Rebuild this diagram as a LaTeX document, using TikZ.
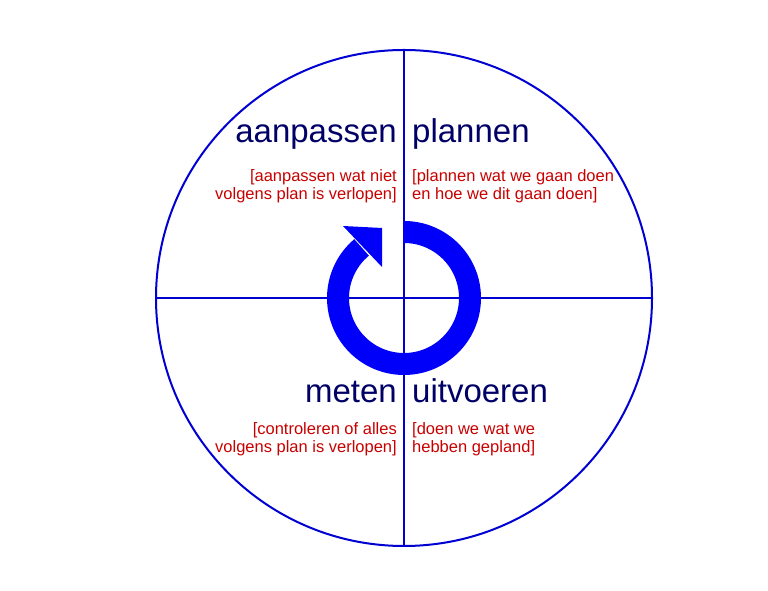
\documentclass[tikz,border=0pt]{standalone}
\usepackage{fontspec}
\setmainfont{Liberation Sans}
\definecolor{cyclenavy}{RGB}{0,0,102}
\definecolor{cyclered}{RGB}{200,0,0}
\definecolor{cycleline}{RGB}{0,0,210}
\definecolor{cycleblue}{RGB}{0,0,250}

\begin{document}
\begin{tikzpicture}[
    x=1pt, y=1pt,
    stagenode/.style={font=\fontsize{33}{38}\selectfont, text=cyclenavy, inner sep=0pt},
    notenode/.style={font=\fontsize{16.5}{18.5}\selectfont, text=cyclered, inner sep=0pt},
    axisline/.style={cycleline, line width=2pt}
]
\useasboundingbox (0,0) rectangle (768,591);

% Circle and axes
\coordinate (centre) at (404,293);
\draw[axisline] (centre) circle (248);
\coordinate (west) at (156,293);
\coordinate (east) at (652,293);
\coordinate (north) at (404,541);
\coordinate (south) at (404,45);
\draw[axisline] (west) -- (east);
\draw[axisline] (north) -- (south);

% Cycle arrow
\draw[cycleblue, line width=22pt]
    ([shift={(90:66)}]centre) arc[start angle=90, end angle=-230, radius=66];
\coordinate (headleft) at ([shift={(-61,72)}]centre);
\coordinate (headtip) at ([shift={(-22,70)}]centre);
\coordinate (headright) at ([shift={(-22,31)}]centre);
\fill[cycleblue] (headleft) -- (headtip) -- (headright) -- cycle;

% Quadrants (notes anchored on their last line)
\node[stagenode, anchor=base east] (aanpassen) at (397,448) {aanpassen};
\node[stagenode, anchor=base west] (plannen) at (412,448) {plannen};
\node[notenode, anchor=base east, align=right] (aanpassennote) at (397,391)
    {[aanpassen wat niet\\volgens plan is verlopen]};
\node[notenode, anchor=base west, align=left] (plannennote) at (412,391)
    {[plannen wat we gaan doen\\en hoe we dit gaan doen]};

\node[stagenode, anchor=base east] (meten) at (397,188) {meten};
\node[stagenode, anchor=base west] (uitvoeren) at (412,188) {uitvoeren};
\node[notenode, anchor=base east, align=right] (metennote) at (397,138)
    {[controleren of alles\\volgens plan is verlopen]};
\node[notenode, anchor=base west, align=left] (uitvoerennote) at (412,138)
    {[doen we wat we\\hebben gepland]};

\end{tikzpicture}
\end{document}
